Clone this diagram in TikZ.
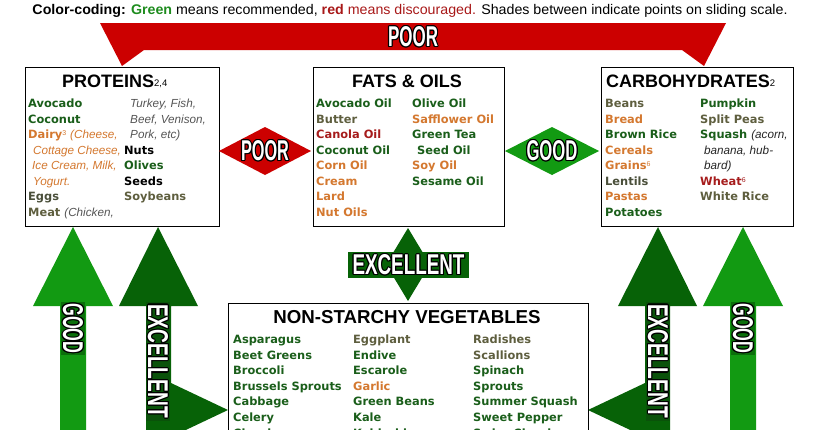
\documentclass[tikz,border=0pt]{standalone}
\usepackage{fontspec}
\setmainfont{Liberation Sans}
\newfontfamily\itemfam{DejaVu Sans}
\usepackage{graphicx}
\definecolor{cg}{HTML}{1A5E1A}
\definecolor{co}{HTML}{D4782F}
\definecolor{col}{HTML}{5E5E3E}
\definecolor{cdk}{HTML}{4A4F3A}
\definecolor{cr}{HTML}{A61C1C}
\definecolor{cit}{HTML}{555555}
\definecolor{cred}{HTML}{CC0000}
\definecolor{cgood}{HTML}{129A12}
\definecolor{cexc}{HTML}{076207}
\definecolor{cexcd}{HTML}{0A520A}
\definecolor{cgoodd}{HTML}{0B6E0B}
\definecolor{capg}{HTML}{1E8C1E}
\definecolor{capr}{HTML}{A81818}
\newcommand{\itemfont}{\itemfam\bfseries\fontsize{11.4}{13}\selectfont}
\newcommand{\itf}{\normalfont\itshape\fontsize{11.7}{13}\selectfont}
\newcommand{\smsup}[1]{\raisebox{3pt}{\normalfont\fontsize{7}{7}\selectfont #1}}
\newcommand{\cond}[3]{\resizebox{#1}{#2}{\bfseries #3}}
\newcommand{\outlbl}[3]{%
  \foreach \ang in {0,30,...,330}{\node[lblsh,#2,shift={(\ang:1.1)}] (#1-\ang) {#3};}%
  \node[lbl,#2] (#1) {#3};}
\tikzset{
  box/.style={draw=black,line width=1.3pt,fill=white,anchor=north west,inner sep=0},
  it/.style={anchor=base west,inner sep=0,font=\itemfont},
  iti/.style={anchor=base west,inner sep=0,font=\itf},
  ttl/.style={inner sep=0,font=\bfseries\fontsize{18}{20}\selectfont},
  lbl/.style={inner sep=0,text=white},
  lblsh/.style={inner sep=0,text=black},
}
\begin{document}
\begin{tikzpicture}[x=1pt,y=-1pt]
\useasboundingbox (0,0) rectangle (816,429);
\clip (0,0) rectangle (816,429);
% caption
\node[anchor=base,inner sep=0] (cap) at (410,14) {\resizebox{755pt}{\height}{\fontsize{14}{16}\selectfont\textbf{Color-coding:} \textcolor{capg}{\textbf{Green}} means recommended, \textcolor{capr}{\textbf{red} means discouraged.} Shades between indicate points on sliding scale.}};
% top banner
\fill[cred] (100,23) -- (726,23) -- (704,66) -- (682,50) -- (144,50) -- (122,66) -- cycle;
\outlbl{bpoor}{at={(413,37)}}{\cond{50pt}{20pt}{POOR}}
% boxes
\node[box,minimum width=194pt,minimum height=159pt] (prot) at (25,67) {};
\node[box,minimum width=191pt,minimum height=159pt] (fats) at (313,67) {};
\node[box,minimum width=192pt,minimum height=159pt] (carb) at (601,67) {};
% diamonds
\fill[cred] (219,151) -- (265,127) -- (311,151) -- (265,175) -- cycle;
\outlbl{dpoor}{at={(265,151)}}{\cond{48pt}{20pt}{POOR}}
\fill[cgood] (505,151) -- (552,127) -- (599,151) -- (552,175) -- cycle;
\outlbl{dgood}{at={(552,151)}}{\cond{51pt}{20pt}{GOOD}}
\fill[cexc] (408,228) -- (430,264.5) -- (408,301) -- (386,264.5) -- cycle;
\fill[cexc] (348,252) rectangle (469,278);
\outlbl{dexc}{at={(408.5,265)}}{\cond{112pt}{20pt}{EXCELLENT}}
% arrows left
\fill[cgood] (73,227) -- (113,306) -- (86,306) -- (86,440) -- (60,440) -- (60,306) -- (33,306) -- cycle;
\fill[cexc] (158,227) -- (198,306) -- (171,306) -- (171,383) -- (228,410) -- (171,437) -- (171,440) -- (146,440) -- (146,306) -- (119,306) -- cycle;
% arrows right
\fill[cgood] (743,227) -- (783,306) -- (756,306) -- (756,440) -- (730,440) -- (730,306) -- (703,306) -- cycle;
\fill[cexc] (658,227) -- (697,306) -- (670,306) -- (670,440) -- (645,440) -- (645,437) -- (588,410) -- (645,383) -- (645,306) -- (618,306) -- cycle;
% arrow labels
\fill[cgoodd] (61,302) rectangle (85,355);
\fill[cexcd] (146,302) rectangle (170,421);
\fill[cexcd] (646,302) rectangle (670,421);
\fill[cgoodd] (731,302) rectangle (755,355);
\outlbl{agl}{at={(73,328.5)},rotate=-90}{\cond{50pt}{20pt}{GOOD}}
\outlbl{ael}{at={(158,361)},rotate=-90}{\cond{114pt}{20pt}{EXCELLENT}}
\outlbl{aer}{at={(658,361)},rotate=-90}{\cond{114pt}{20pt}{EXCELLENT}}
\outlbl{agr}{at={(743,328.5)},rotate=-90}{\cond{50pt}{20pt}{GOOD}}
% vegetable box
\node[box,minimum width=360pt,minimum height=160pt] (veg) at (228,303) {};
% titles
\node[ttl,anchor=base west] (tprot) at (62,87.7) {PROTEINS\raisebox{1pt}{\normalfont\fontsize{9.5}{9.5}\selectfont 2,4}};
\node[ttl,anchor=base] (tfats) at (407,87.7) {FATS \& OILS};
\node[ttl,anchor=base west] (tcarb) at (606,87.7) {CARBOHYDRATES\raisebox{1.5pt}{\normalfont\fontsize{9.5}{9.5}\selectfont 2}};
\node[ttl,anchor=base,font=\bfseries\fontsize{18.7}{20}\selectfont] (tveg) at (407,323.4) {NON-STARCHY VEGETABLES};
% proteins
\node[it,text=cg] (p1) at (28,107.7) {Avocado};
\node[it,text=cg] (p2) at (28,123.2) {Coconut};
\node[it,text=co] (p3) at (28,138.7) {Dairy\smsup{3} {\itf(Cheese,}};
\node[iti,text=co] (p4) at (33,154.2) {Cottage Cheese,};
\node[iti,text=co] (p5) at (32,169.7) {Ice Cream, Milk,};
\node[iti,text=co] (p6) at (33,185.2) {Yogurt.};
\node[it,text=cdk] (p7) at (28,200.7) {Eggs};
\node[it,text=col] (p8) at (28,216.2) {Meat {\itf\color{cit}(Chicken,}};
\node[iti,text=cit] (p9) at (130,107.7) {Turkey, Fish,};
\node[iti,text=cit] (p10) at (130,123.2) {Beef, Venison,};
\node[iti,text=cit] (p11) at (130,138.7) {Pork, etc)};
\node[it,text=black] (p12) at (124,154.2) {Nuts};
\node[it,text=cg] (p13) at (124,169.7) {Olives};
\node[it,text=black] (p14) at (124,185.2) {Seeds};
\node[it,text=col] (p15) at (124,200.7) {Soybeans};
% fats
\node[it,text=cg] (f1) at (316,107.7) {Avocado Oil};
\node[it,text=col] (f2) at (316,123.2) {Butter};
\node[it,text=cr] (f3) at (316,138.7) {Canola Oil};
\node[it,text=cg] (f4) at (316,154.2) {Coconut Oil};
\node[it,text=co] (f5) at (316,169.7) {Corn Oil};
\node[it,text=co] (f6) at (316,185.2) {Cream};
\node[it,text=co] (f7) at (316,200.7) {Lard};
\node[it,text=co] (f8) at (316,216.2) {Nut Oils};
\node[it,text=cg] (f9) at (412,107.7) {Olive Oil};
\node[it,text=co] (f10) at (412,123.2) {Safflower Oil};
\node[it,text=cg] (f11) at (412,138.7) {Green Tea};
\node[it,text=cg] (f12) at (417,154.2) {Seed Oil};
\node[it,text=co] (f13) at (412,169.7) {Soy Oil};
\node[it,text=cg] (f14) at (412,185.2) {Sesame Oil};
% carbohydrates
\node[it,text=col] (c1) at (605,107.7) {Beans};
\node[it,text=co] (c2) at (605,123.2) {Bread};
\node[it,text=cg] (c3) at (605,138.7) {Brown Rice};
\node[it,text=co] (c4) at (605,154.2) {Cereals};
\node[it,text=co] (c5) at (605,169.7) {Grains\smsup{6}};
\node[it,text=cdk] (c6) at (605,185.2) {Lentils};
\node[it,text=co] (c7) at (605,200.7) {Pastas};
\node[it,text=cg] (c8) at (605,216.2) {Potatoes};
\node[it,text=cg] (c9) at (700,107.7) {Pumpkin};
\node[it,text=col] (c10) at (700,123.2) {Split Peas};
\node[it,text=cg] (c11) at (700,138.7) {Squash {\itf\color{black!85}(acorn,}};
\node[iti,text=black!85] (c12) at (704,154.2) {banana, hub-};
\node[iti,text=black!85] (c13) at (704,169.7) {bard)};
\node[it,text=cr] (c14) at (700,185.2) {Wheat\smsup{6}};
\node[it,text=col] (c15) at (700,200.7) {White Rice};
% vegetables
\node[it,text=cg] (v1) at (233,343.5) {Asparagus};
\node[it,text=cg] (v2) at (233,359) {Beet Greens};
\node[it,text=cg] (v3) at (233,374.6) {Broccoli};
\node[it,text=cg] (v4) at (233,390.2) {Brussels Sprouts};
\node[it,text=cg] (v5) at (233,405.8) {Cabbage};
\node[it,text=cg] (v6) at (233,421.4) {Celery};
\node[it,text=cg] (v7) at (233,437) {Chard};
\node[it,text=col] (v8) at (353,343.5) {Eggplant};
\node[it,text=cg] (v9) at (353,359) {Endive};
\node[it,text=cg] (v10) at (353,374.6) {Escarole};
\node[it,text=co] (v11) at (353,390.2) {Garlic};
\node[it,text=cg] (v12) at (353,405.8) {Green Beans};
\node[it,text=cg] (v13) at (353,421.4) {Kale};
\node[it,text=cg] (v14) at (353,437) {Kohlrabi};
\node[it,text=col] (v15) at (473,343.5) {Radishes};
\node[it,text=col] (v16) at (473,359) {Scallions};
\node[it,text=cg] (v17) at (473,374.6) {Spinach};
\node[it,text=cg] (v18) at (473,390.2) {Sprouts};
\node[it,text=cg] (v19) at (473,405.8) {Summer Squash};
\node[it,text=cg] (v20) at (473,421.4) {Sweet Pepper};
\node[it,text=cg] (v21) at (473,437) {Swiss Chard};
\end{tikzpicture}
\end{document}
